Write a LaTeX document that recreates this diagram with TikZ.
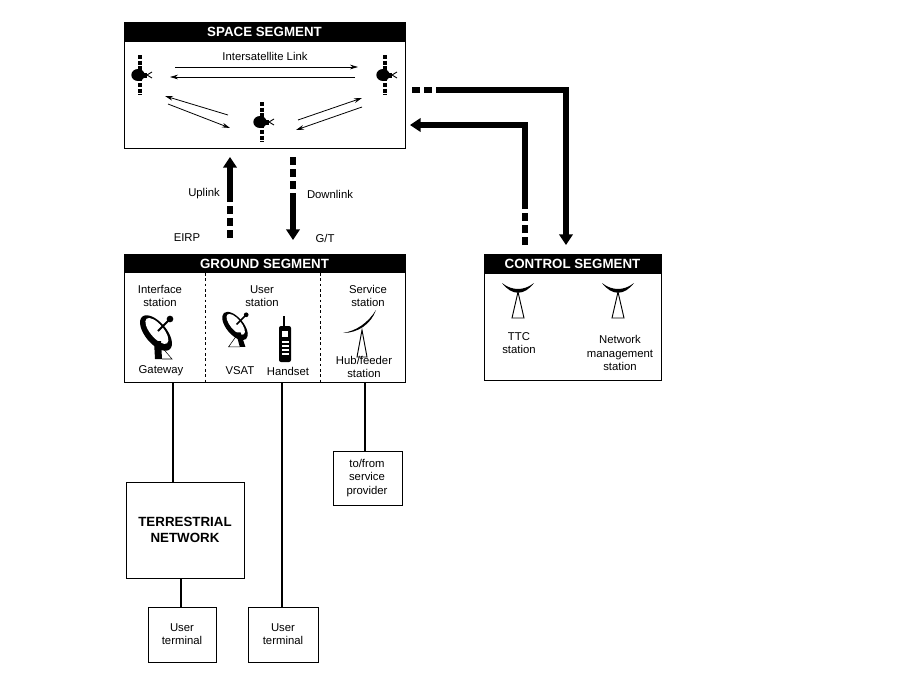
\documentclass[tikz,border=0pt]{standalone}
\usepackage{fontspec}
\setmainfont{Liberation Sans}
\usetikzlibrary{arrows.meta}
\begin{document}
\begin{tikzpicture}[x=0.75pt,y=-0.75pt,
  box/.style={draw,line width=0.9pt,fill=white},
  hdr/.style={fill=black,text=white,font=\bfseries\fontsize{10}{12}\selectfont,inner sep=0pt},
  lbl/.style={font=\fontsize{8.5}{10}\selectfont,align=center,inner sep=1pt},
  thin/.style={-{Stealth[length=6pt,width=3.5pt]},line width=0.6pt},
  big/.style={line width=4pt},
  bigtip/.style={-{Triangle[length=8pt,width=10pt]}},
  wire/.style={line width=2pt},
  dsh/.style={line width=4pt,dash pattern=on 6pt off 3pt}]
\useasboundingbox (0,0) rectangle (900,675);
% space segment
\node[box,minimum width=281*0.75pt,minimum height=126*0.75pt,anchor=north west] (space) at (124,22) {};
\fill (124,22) rectangle (405,42);
\node[hdr] (spaceh) at (264.5,32) {SPACE SEGMENT};
\node[lbl] (isl) at (265,56) {Intersatellite Link};
\newcommand{\sat}[2]{%
  \begin{scope}[shift={(#1,#2)}]
   \draw[line width=3.5pt,dash pattern=on 3pt off 1.2pt] (0,-20) -- (0,20);
   \fill (-2,0) ellipse (5pt and 4.5pt);
   \fill (2,-2.5) rectangle (7,2.5);
   \draw[line width=0.7pt] (7,0) -- (12,-3) (7,0) -- (12,3);
  \end{scope}}
\sat{140}{75}\sat{385}{75}\sat{262}{122}
\draw[thin] (175,67) -- (358,67);
\draw[thin] (355,77) -- (170,77);
\draw[thin] (228,115) -- (165,96);
\draw[thin] (168,104) -- (230,128);
\draw[thin] (298,120) -- (362,98);
\draw[thin] (362,107) -- (296,130);
% ground segment
\node[box,minimum width=281*0.75pt,minimum height=128*0.75pt,anchor=north west] (ground) at (124,254) {};
\fill (124,254) rectangle (405,273);
\node[hdr] (groundh) at (264.5,264) {GROUND SEGMENT};
\draw[dash pattern=on 2pt off 2pt,line width=0.5pt] (205,273) -- (205,382) (320,273) -- (320,382);
\node[lbl] (ifs) at (160,296) {Interface\\station};
\node[lbl] (us) at (262,296) {User\\station};
\node[lbl] (ss) at (368,296) {Service\\station};
\node[lbl] (gw) at (161,371) {Gateway};
\node[lbl] (vsat) at (240,371) {VSAT};
\node[lbl] (hs) at (288,371) {Handset};
\node[lbl] (hub) at (364,367) {Hub/feeder\\station};
% gateway dish
\begin{scope}[shift={(156,333)}]
 \fill[rotate=-50] (0,0) ellipse (16pt and 8pt);
 \fill[white,rotate=-50] (-1,-2) ellipse (12pt and 5pt);
 \draw[line width=1.5pt] (2,-2) -- (14,-14);
 \fill (14,-14) circle (2.5pt);
 \fill (-2,8) -- (5,8) -- (6,26) -- (-1,26) -- cycle;
 \draw (6,26) -- (16,26) -- (4,12);
\end{scope}
% vsat dish
\begin{scope}[shift={(235,326)},scale=0.8]
 \fill[rotate=-50] (0,0) ellipse (16pt and 8pt);
 \fill[white,rotate=-50] (-1,-2) ellipse (12pt and 5pt);
 \draw[line width=1.2pt] (2,-2) -- (14,-14);
 \fill (14,-14) circle (2.2pt);
 \fill (1,8) -- (7,8) -- (13,26) -- (6,26) -- cycle;
 \draw (6,26) -- (-8,26) -- (2,12);
\end{scope}
% handset
\draw[line width=0.9pt] (284,316) -- (284,326);
\fill[rounded corners=1.5pt] (279,326) rectangle (291,362);
\fill[white] (282,331) rectangle (288,337);
\foreach \yy in {341,345,349,353} \fill[white] (281.5,\yy) rectangle (288.5,\yy+2);
% hub dish
\begin{scope}[shift={(362,332)}]
 \fill (-19,1) .. controls (-6,-1) and (6,-9) .. (14,-22) .. controls (9,-8) and (-4,1) .. (-19,1) -- cycle;
 \draw[line width=0.7pt] (0,-2) -- (-5,25) -- (5,25) -- cycle;
\end{scope}
% terrestrial etc
\node[box,minimum width=118*0.75pt,minimum height=96*0.75pt,anchor=north west] (terr) at (126,482) {};
\node[font=\bfseries\fontsize{10}{12}\selectfont,align=center] (terrt) at (185,530) {TERRESTRIAL\\NETWORK};
\node[box,minimum width=68*0.75pt,minimum height=55*0.75pt,anchor=north west] (ut1) at (148,607) {};
\node[lbl] (ut1t) at (182,634) {User\\terminal};
\node[box,minimum width=70*0.75pt,minimum height=55*0.75pt,anchor=north west] (ut2) at (248,607) {};
\node[lbl] (ut2t) at (283,634) {User\\terminal};
\node[box,minimum width=69*0.75pt,minimum height=54*0.75pt,anchor=north west] (sp) at (333,451) {};
\node[lbl] (spt) at (367,478) {to/from\\service\\provider};
\draw[wire] (173,382) -- (173,482);
\draw[wire] (181,578) -- (181,607);
\draw[wire] (282,382) -- (282,607);
\draw[wire] (365,382) -- (365,451);
% control segment
\node[box,minimum width=177*0.75pt,minimum height=126*0.75pt,anchor=north west] (ctrl) at (484,254) {};
\fill (484,254) rectangle (661,274);
\node[hdr] (ctrlh) at (572.5,264) {CONTROL SEGMENT};
\foreach \cx in {518,618}{
 \fill (\cx-16,283) .. controls (\cx-6,296) and (\cx+6,296) .. (\cx+16,283) .. controls (\cx+6,291) and (\cx-6,291) .. (\cx-16,283) -- cycle;
 \draw[line width=0.7pt] (\cx,292) -- (\cx-6,318) -- (\cx+6,318) -- cycle;}
\node[lbl] (ttc) at (519,343) {TTC\\station};
\node[lbl] (nms) at (620,353) {Network\\management\\station};
% uplink/downlink
\draw[dsh] (230,238) -- (230,200);
\draw[big,bigtip] (230,201) -- (230,157);
\draw[dsh] (293,157) -- (293,200);
\draw[big,bigtip] (293,199) -- (293,240);
\node[lbl] (ul) at (204,194) {Uplink};
\node[lbl] (dl) at (330,194) {Downlink};
\node[lbl] (eirp) at (187,238) {EIRP};
\node[lbl] (gt) at (325,238) {G/T};
% control arrows
\draw[dsh] (412,90) -- (445,90);
\draw[big,bigtip] (444,90) -- (566,90) -- (566,245);
\draw[dsh] (525,245) -- (525,200);
\draw[big,bigtip] (525,201) -- (525,125) -- (410,125);
\end{tikzpicture}
\end{document}
